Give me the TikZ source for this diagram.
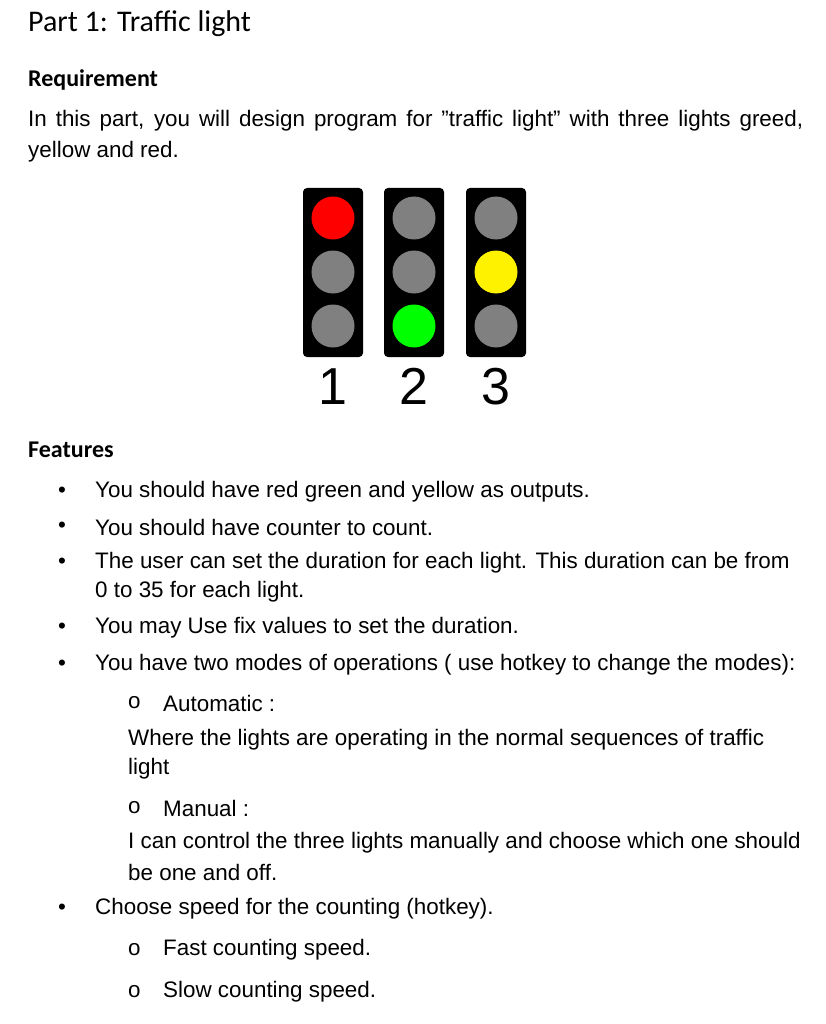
\documentclass[tikz,border=0pt]{standalone}
\usepackage{fontspec}
\setmainfont{Liberation Sans}
\newfontfamily\calfont{Carlito}
\begin{document}
\begin{tikzpicture}[x=1pt,y=-1pt,
  txt/.style={anchor=west,inner sep=0pt,font=\fontsize{22.4}{29}\selectfont},
  head/.style={anchor=west,inner sep=0pt,font=\calfont\bfseries\fontsize{24}{28}\selectfont},
  housing/.style={fill=black,rounded corners=4pt},
  lamp/.style={circle,minimum size=43pt,inner sep=0pt}]
\useasboundingbox (0,0) rectangle (826,1024);
\fill[white] (0,0) rectangle (826,1024);
\node[anchor=west,inner sep=0pt,font=\calfont\fontsize{30}{34}\selectfont] (title) at (28,24) {Part 1: Traffic light};
\node[head] (req) at (28,80) {Requirement};
\node[txt] (para1) at (28,121) {\makebox[775pt][s]{In this part, you will design program for \symbol{34}traffic light\symbol{34} with three lights greed,}};
\node[txt] (para2) at (28,152) {yellow and red.};
\foreach \i/\x/\a/\b/\c in {1/333/red/gray/gray,2/414/gray/gray/green,3/496/gray/yellow/gray}{
  \fill[housing] (\x-30,188) rectangle (\x+30,357);
  \node[lamp,fill=\a] (l\i a) at (\x,218) {};
  \node[lamp,fill=\b] (l\i b) at (\x,272) {};
  \node[lamp,fill=\c] (l\i c) at (\x,326) {};
  \node[anchor=base,inner sep=0pt,font=\fontsize{52}{56}\selectfont] (n\i) at (\x,404) {\i};
}
\node[head] (feat) at (28,450) {Features};
\foreach \y/\t in {492/You should have red green and yellow as outputs.,527/You should have counter to count.,628/You may Use fix values to set the duration.,665/You have two modes of operations ( use hotkey to change the modes):,909/Choose speed for the counting (hotkey).}{
  \node[txt] at (58,\y) {\textbullet};
  \node[txt] at (95,\y) {\t};
}
\node[txt] at (58,563) {\textbullet};
\node[txt] at (95,563) {The user can set the duration for each light. This duration can be from};
\node[txt] at (95,592) {0 to 35 for each light.};
\foreach \y/\t in {703/Automatic :,808/Manual :,950/Fast counting speed.,992/Slow counting speed.}{
  \node[txt] at (128,\y) {o};
  \node[txt] at (163,\y) {\t};
}
\node[txt] at (128,740) {Where the lights are operating in the normal sequences of traffic};
\node[txt] at (128,769) {light};
\node[txt] at (128,843) {I can control the three lights manually and choose which one should};
\node[txt] at (128,872) {be one and off.};
\end{tikzpicture}
\end{document}
